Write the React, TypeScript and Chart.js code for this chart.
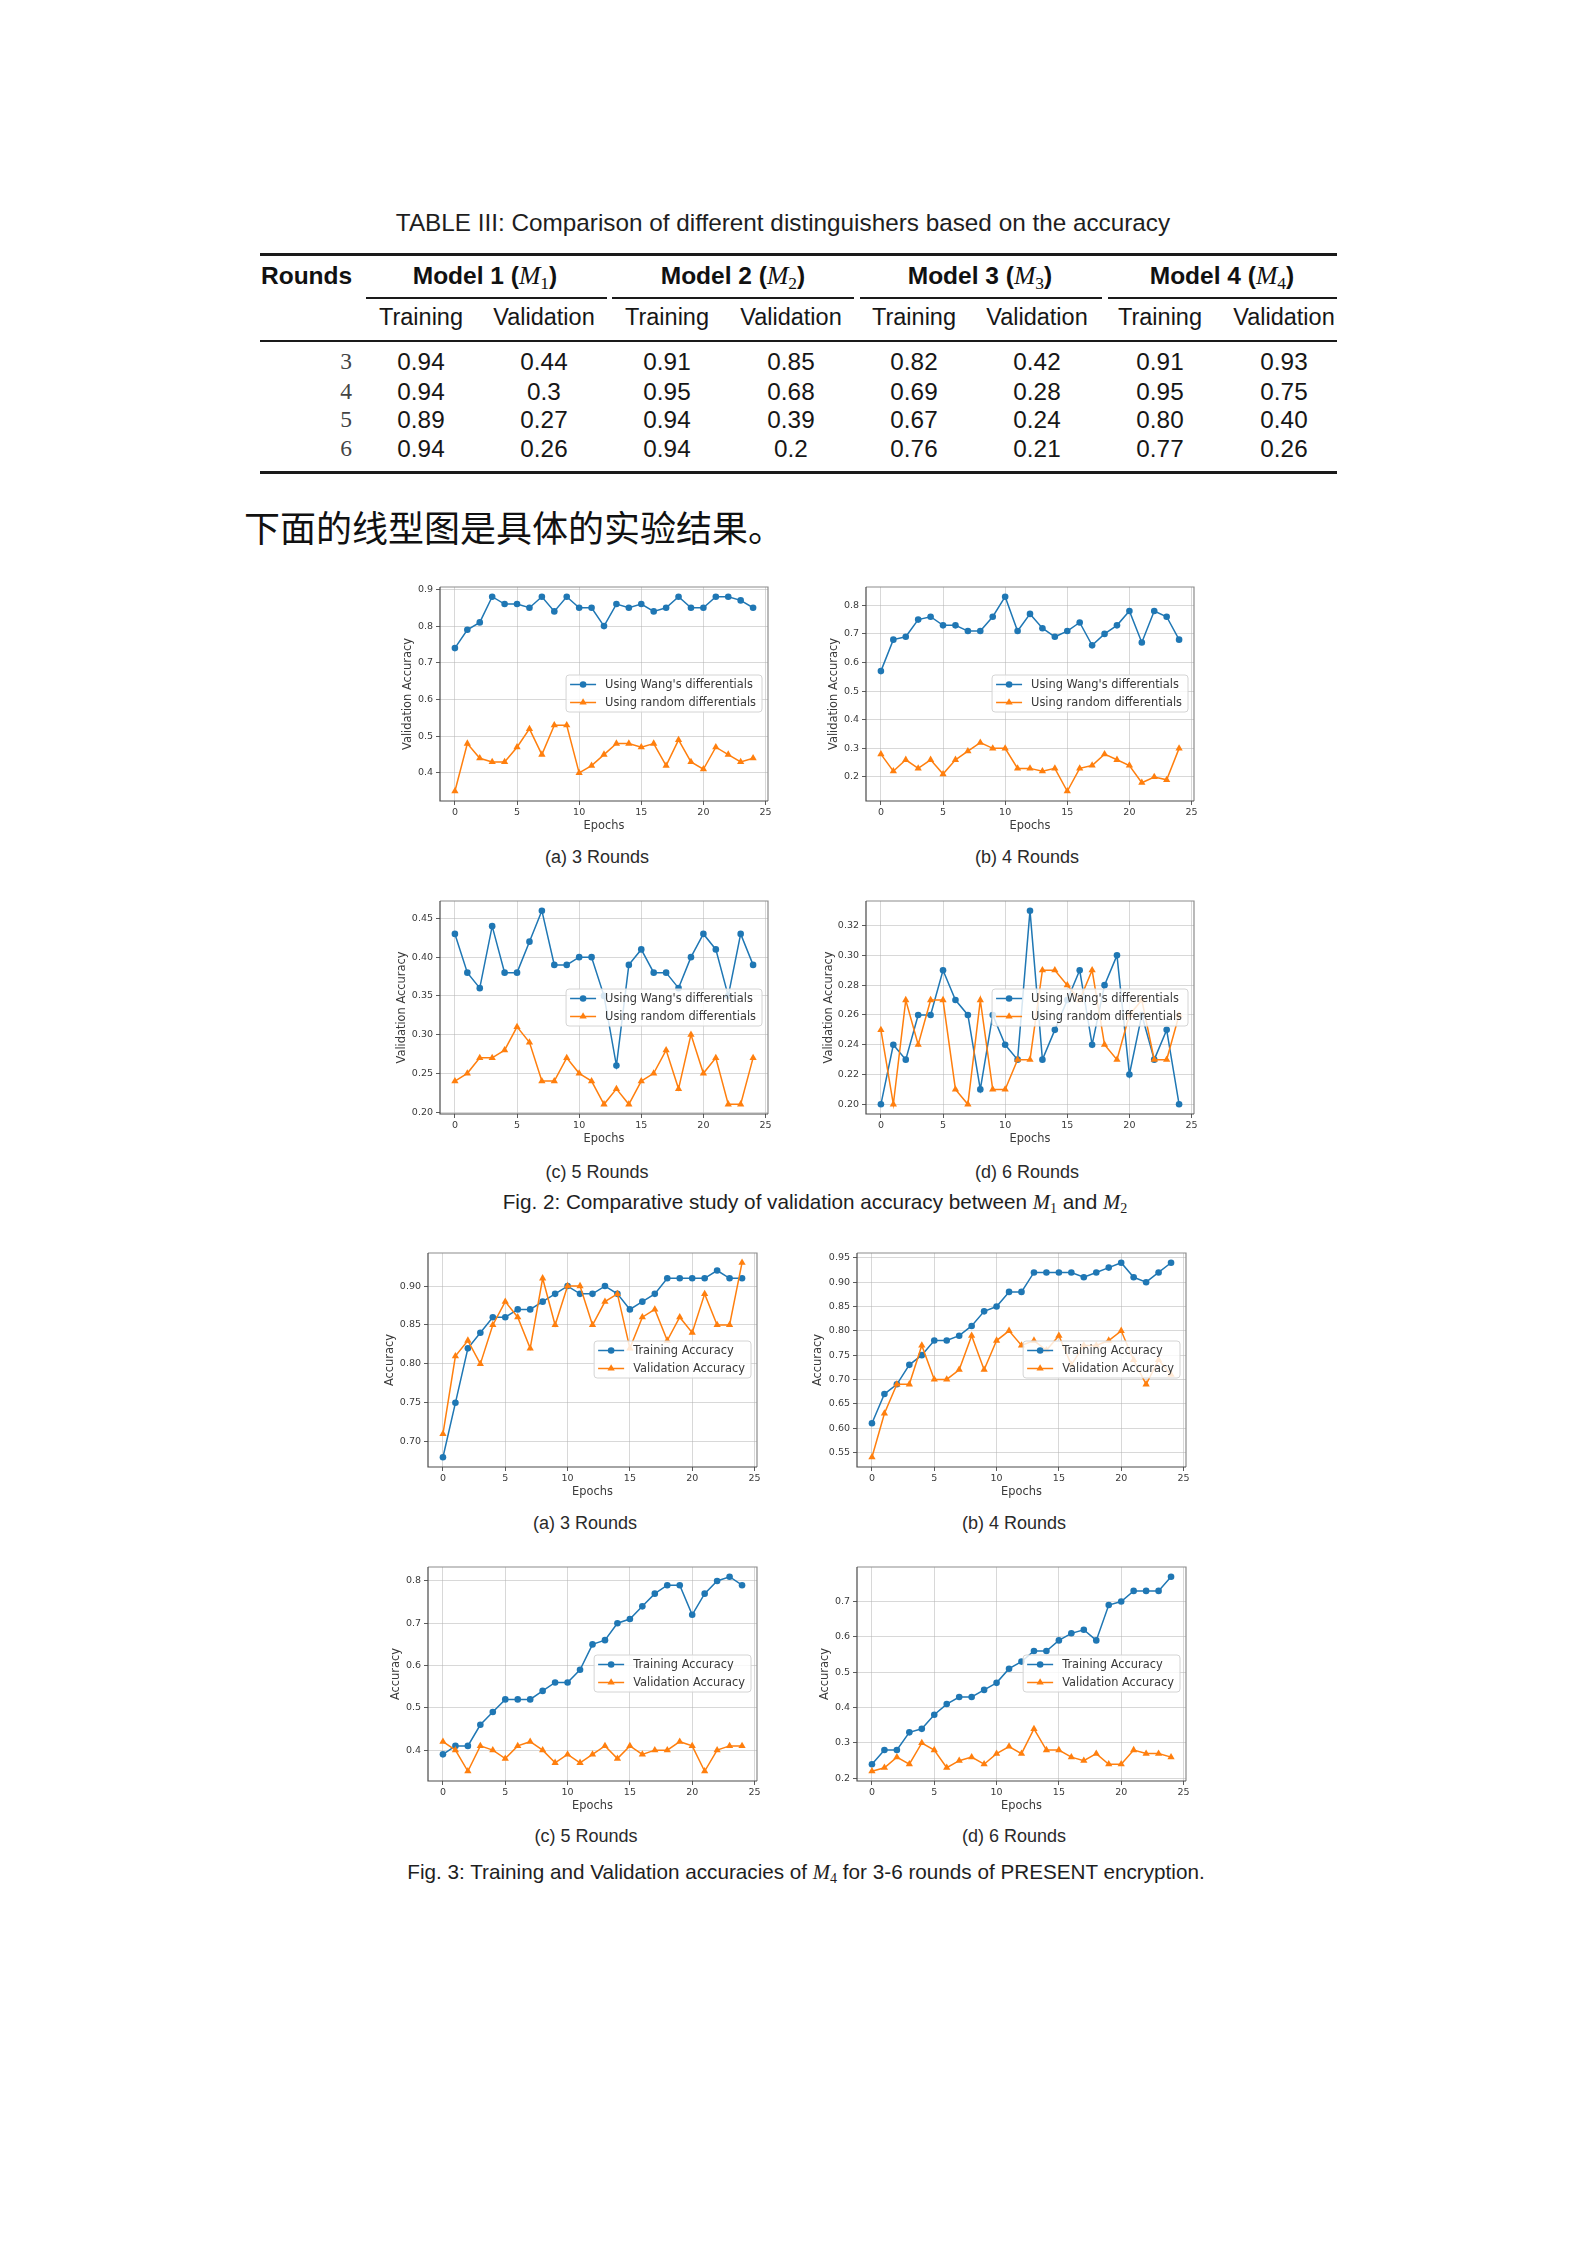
import React, { useEffect, useRef } from "react";
import { Chart, registerables } from "chart.js";
Chart.register(...registerables);

// ---------- data ----------
const epochs = [0, 1, 2, 3, 4, 5, 6, 7, 8, 9, 10, 11, 12, 13, 14, 15, 16, 17, 18, 19, 20, 21, 22, 23, 24];
const xTicks = [0, 5, 10, 15, 20, 25];

const fig2aWang = [0.74, 0.79, 0.81, 0.88, 0.86, 0.86, 0.85, 0.88, 0.84, 0.88, 0.85, 0.85, 0.80, 0.86, 0.85, 0.86, 0.84, 0.85, 0.88, 0.85, 0.85, 0.88, 0.88, 0.87, 0.85];
const fig2aRandom = [0.35, 0.48, 0.44, 0.43, 0.43, 0.47, 0.52, 0.45, 0.53, 0.53, 0.40, 0.42, 0.45, 0.48, 0.48, 0.47, 0.48, 0.42, 0.49, 0.43, 0.41, 0.47, 0.45, 0.43, 0.44];
const fig2bWang = [0.57, 0.68, 0.69, 0.75, 0.76, 0.73, 0.73, 0.71, 0.71, 0.76, 0.83, 0.71, 0.77, 0.72, 0.69, 0.71, 0.74, 0.66, 0.70, 0.73, 0.78, 0.67, 0.78, 0.76, 0.68];
const fig2bRandom = [0.28, 0.22, 0.26, 0.23, 0.26, 0.21, 0.26, 0.29, 0.32, 0.30, 0.30, 0.23, 0.23, 0.22, 0.23, 0.15, 0.23, 0.24, 0.28, 0.26, 0.24, 0.18, 0.20, 0.19, 0.30];
const fig2cWang = [0.43, 0.38, 0.36, 0.44, 0.38, 0.38, 0.42, 0.46, 0.39, 0.39, 0.40, 0.40, 0.35, 0.26, 0.39, 0.41, 0.38, 0.38, 0.36, 0.40, 0.43, 0.41, 0.35, 0.43, 0.39];
const fig2cRandom = [0.24, 0.25, 0.27, 0.27, 0.28, 0.31, 0.29, 0.24, 0.24, 0.27, 0.25, 0.24, 0.21, 0.23, 0.21, 0.24, 0.25, 0.28, 0.23, 0.30, 0.25, 0.27, 0.21, 0.21, 0.27];
const fig2dWang = [0.20, 0.24, 0.23, 0.26, 0.26, 0.29, 0.27, 0.26, 0.21, 0.26, 0.24, 0.23, 0.33, 0.23, 0.25, 0.27, 0.29, 0.24, 0.28, 0.30, 0.22, 0.26, 0.23, 0.25, 0.20];
const fig2dRandom = [0.25, 0.20, 0.27, 0.24, 0.27, 0.27, 0.21, 0.20, 0.27, 0.21, 0.21, 0.23, 0.23, 0.29, 0.29, 0.28, 0.27, 0.29, 0.24, 0.23, 0.26, 0.27, 0.23, 0.23, 0.26];

const fig3aTrain = [0.68, 0.75, 0.82, 0.84, 0.86, 0.86, 0.87, 0.87, 0.88, 0.89, 0.90, 0.89, 0.89, 0.90, 0.89, 0.87, 0.88, 0.89, 0.91, 0.91, 0.91, 0.91, 0.92, 0.91, 0.91];
const fig3aVal = [0.71, 0.81, 0.83, 0.80, 0.85, 0.88, 0.86, 0.82, 0.91, 0.85, 0.90, 0.90, 0.85, 0.88, 0.89, 0.82, 0.86, 0.87, 0.83, 0.86, 0.84, 0.89, 0.85, 0.85, 0.93];
const fig3bTrain = [0.61, 0.67, 0.69, 0.73, 0.75, 0.78, 0.78, 0.79, 0.81, 0.84, 0.85, 0.88, 0.88, 0.92, 0.92, 0.92, 0.92, 0.91, 0.92, 0.93, 0.94, 0.91, 0.90, 0.92, 0.94];
const fig3bVal = [0.54, 0.63, 0.69, 0.69, 0.77, 0.70, 0.70, 0.72, 0.79, 0.72, 0.78, 0.80, 0.77, 0.78, 0.76, 0.79, 0.73, 0.77, 0.77, 0.78, 0.80, 0.74, 0.69, 0.74, 0.71];
const fig3cTrain = [0.39, 0.41, 0.41, 0.46, 0.49, 0.52, 0.52, 0.52, 0.54, 0.56, 0.56, 0.59, 0.65, 0.66, 0.70, 0.71, 0.74, 0.77, 0.79, 0.79, 0.72, 0.77, 0.80, 0.81, 0.79];
const fig3cVal = [0.42, 0.40, 0.35, 0.41, 0.40, 0.38, 0.41, 0.42, 0.40, 0.37, 0.39, 0.37, 0.39, 0.41, 0.38, 0.41, 0.39, 0.40, 0.40, 0.42, 0.41, 0.35, 0.40, 0.41, 0.41];
const fig3dTrain = [0.24, 0.28, 0.28, 0.33, 0.34, 0.38, 0.41, 0.43, 0.43, 0.45, 0.47, 0.51, 0.53, 0.56, 0.56, 0.59, 0.61, 0.62, 0.59, 0.69, 0.70, 0.73, 0.73, 0.73, 0.77];
const fig3dVal = [0.22, 0.23, 0.26, 0.24, 0.30, 0.28, 0.23, 0.25, 0.26, 0.24, 0.27, 0.29, 0.27, 0.34, 0.28, 0.28, 0.26, 0.25, 0.27, 0.24, 0.24, 0.28, 0.27, 0.27, 0.26];

const fig2aYTicks = ["0.4", "0.5", "0.6", "0.7", "0.8", "0.9"];
const fig2bYTicks = ["0.2", "0.3", "0.4", "0.5", "0.6", "0.7", "0.8"];
const fig2cYTicks = ["0.20", "0.25", "0.30", "0.35", "0.40", "0.45"];
const fig2dYTicks = ["0.20", "0.22", "0.24", "0.26", "0.28", "0.30", "0.32"];
const fig3aYTicks = ["0.70", "0.75", "0.80", "0.85", "0.90"];
const fig3bYTicks = ["0.55", "0.60", "0.65", "0.70", "0.75", "0.80", "0.85", "0.90", "0.95"];
const fig3cYTicks = ["0.4", "0.5", "0.6", "0.7", "0.8"];
const fig3dYTicks = ["0.2", "0.3", "0.4", "0.5", "0.6", "0.7"];

const fig2Legend = ["Using Wang's differentials", "Using random differentials"];
const fig3Legend = ["Training Accuracy", "Validation Accuracy"];

const tableRounds = ["3", "4", "5", "6"];
const m1Training = ["0.94", "0.94", "0.89", "0.94"];
const m1Validation = ["0.44", "0.3", "0.27", "0.26"];
const m2Training = ["0.91", "0.95", "0.94", "0.94"];
const m2Validation = ["0.85", "0.68", "0.39", "0.2"];
const m3Training = ["0.82", "0.69", "0.67", "0.76"];
const m3Validation = ["0.42", "0.28", "0.24", "0.21"];
const m4Training = ["0.91", "0.95", "0.80", "0.77"];
const m4Validation = ["0.93", "0.75", "0.40", "0.26"];

// ---------- style ----------
const BLUE = "#1f77b4";
const ORANGE = "#ff7f0e";
const TXT = "#3a3a3a";
const GRID = "rgba(176,176,176,0.55)";
const FONT = '"DejaVu Sans", sans-serif';
const TICK_SIZE = 9.5;
const TITLE_SIZE = 11.4;
const LEGEND_SIZE = 11.4;
const PAD_TOP = 12;
const PAD_RIGHT = 14;
const X_AXIS_H = 34;

function mplRange(a: number[], b: number[]): [number, number] {
  const all = a.concat(b);
  const lo = Math.min(...all);
  const hi = Math.max(...all);
  const m = (hi - lo) * 0.05;
  return [lo - m, hi + m];
}

function drawMarker(ctx: CanvasRenderingContext2D, style: string, x: number, y: number, color: string) {
  ctx.fillStyle = color;
  ctx.beginPath();
  if (style === "circle") {
    ctx.arc(x, y, 3.3, 0, Math.PI * 2);
  } else {
    const r = 4.2;
    ctx.moveTo(x, y - r);
    ctx.lineTo(x + r * 0.866, y + r * 0.5);
    ctx.lineTo(x - r * 0.866, y + r * 0.5);
    ctx.closePath();
  }
  ctx.fill();
}

function makeDecor(labels: string[]) {
  return {
    id: "decor",
    afterDatasetsDraw(chart: any) {
      const ctx: CanvasRenderingContext2D = chart.ctx;
      const a = chart.chartArea;
      ctx.save();
      // spines
      ctx.lineWidth = 1.2;
      ctx.strokeStyle = "#8c8c8c";
      ctx.beginPath();
      ctx.moveTo(a.left, a.top);
      ctx.lineTo(a.right, a.top);
      ctx.lineTo(a.right, a.bottom);
      ctx.stroke();
      ctx.strokeStyle = "#4a4a4a";
      ctx.beginPath();
      ctx.moveTo(a.left, a.top);
      ctx.lineTo(a.left, a.bottom);
      ctx.lineTo(a.right, a.bottom);
      ctx.stroke();
      // legend
      ctx.font = `${LEGEND_SIZE}px ${FONT}`;
      const tw = Math.max(...labels.map((l) => ctx.measureText(l).width));
      const bw = 39 + tw + 6;
      const bh = 37;
      const bx = a.right - 6 - bw;
      const by = a.top + 88;
      const r = 3;
      ctx.beginPath();
      ctx.moveTo(bx + r, by);
      ctx.lineTo(bx + bw - r, by);
      ctx.quadraticCurveTo(bx + bw, by, bx + bw, by + r);
      ctx.lineTo(bx + bw, by + bh - r);
      ctx.quadraticCurveTo(bx + bw, by + bh, bx + bw - r, by + bh);
      ctx.lineTo(bx + r, by + bh);
      ctx.quadraticCurveTo(bx, by + bh, bx, by + bh - r);
      ctx.lineTo(bx, by + r);
      ctx.quadraticCurveTo(bx, by, bx + r, by);
      ctx.closePath();
      ctx.fillStyle = "rgba(255,255,255,0.82)";
      ctx.fill();
      ctx.lineWidth = 1;
      ctx.strokeStyle = "#d4d4d4";
      ctx.stroke();
      const colors = [BLUE, ORANGE];
      const styles = ["circle", "triangle"];
      labels.forEach((l, i) => {
        const y = by + 9.5 + i * 18;
        ctx.strokeStyle = colors[i];
        ctx.lineWidth = 1.5;
        ctx.beginPath();
        ctx.moveTo(bx + 4, y);
        ctx.lineTo(bx + 30, y);
        ctx.stroke();
        drawMarker(ctx, styles[i], bx + 17, y, colors[i]);
        ctx.fillStyle = TXT;
        ctx.textBaseline = "middle";
        ctx.textAlign = "left";
        ctx.fillText(l, bx + 39, y + 0.5);
      });
      ctx.restore();
    },
  };
}

type Cfg = {
  a: number[];
  b: number[];
  yTicks: string[];
  yTitle: string;
  legend: string[];
  left: number;
  top: number;
  w: number;
  h: number;
  yw: number;
};

const fig2Charts: Cfg[] = [
  { a: fig2aWang, b: fig2aRandom, yTicks: fig2aYTicks, yTitle: "Validation Accuracy", legend: fig2Legend, left: 440, top: 587, w: 328, h: 214, yw: 41 },
  { a: fig2bWang, b: fig2bRandom, yTicks: fig2bYTicks, yTitle: "Validation Accuracy", legend: fig2Legend, left: 866, top: 587, w: 328, h: 214, yw: 41 },
  { a: fig2cWang, b: fig2cRandom, yTicks: fig2cYTicks, yTitle: "Validation Accuracy", legend: fig2Legend, left: 440, top: 901, w: 328, h: 213, yw: 47 },
  { a: fig2dWang, b: fig2dRandom, yTicks: fig2dYTicks, yTitle: "Validation Accuracy", legend: fig2Legend, left: 866, top: 901, w: 328, h: 213, yw: 46 },
];
const fig3Charts: Cfg[] = [
  { a: fig3aTrain, b: fig3aVal, yTicks: fig3aYTicks, yTitle: "Accuracy", legend: fig3Legend, left: 428, top: 1253, w: 329, h: 214, yw: 47 },
  { a: fig3bTrain, b: fig3bVal, yTicks: fig3bYTicks, yTitle: "Accuracy", legend: fig3Legend, left: 857, top: 1253, w: 329, h: 214, yw: 48 },
  { a: fig3cTrain, b: fig3cVal, yTicks: fig3cYTicks, yTitle: "Accuracy", legend: fig3Legend, left: 428, top: 1567, w: 329, h: 214, yw: 41 },
  { a: fig3dTrain, b: fig3dVal, yTicks: fig3dYTicks, yTitle: "Accuracy", legend: fig3Legend, left: 857, top: 1567, w: 329, h: 214, yw: 41 },
];

function LineChart({ cfg }: { cfg: Cfg }) {
  const ref = useRef<HTMLCanvasElement>(null);
  const cw = cfg.yw + cfg.w + PAD_RIGHT;
  const ch = PAD_TOP + cfg.h + X_AXIS_H;
  useEffect(() => {
    if (!ref.current) return;
    const [ymin, ymax] = mplRange(cfg.a, cfg.b);
    const tickFont = { family: FONT, size: TICK_SIZE };
    const titleFont = { family: FONT, size: TITLE_SIZE };
    const chart = new Chart(ref.current, {
      type: "line",
      data: {
        datasets: [
          {
            label: cfg.legend[0],
            data: epochs.map((x, i) => ({ x, y: cfg.a[i] })),
            borderColor: BLUE,
            backgroundColor: BLUE,
            borderWidth: 1.5,
            pointStyle: "circle",
            pointRadius: 3.3,
            pointBorderWidth: 0,
            fill: false,
            tension: 0,
            order: 1,
          },
          {
            label: cfg.legend[1],
            data: epochs.map((x, i) => ({ x, y: cfg.b[i] })),
            borderColor: ORANGE,
            backgroundColor: ORANGE,
            borderWidth: 1.5,
            pointStyle: "triangle",
            pointRadius: 4.2,
            pointBorderWidth: 0,
            fill: false,
            tension: 0,
            order: 0,
          },
        ],
      },
      options: {
        responsive: false,
        animation: false,
        events: [],
        layout: { padding: { top: PAD_TOP, right: PAD_RIGHT, left: 0, bottom: 0 } },
        plugins: { legend: { display: false }, tooltip: { enabled: false } },
        scales: {
          x: {
            type: "linear",
            min: -1.2,
            max: 25.2,
            afterBuildTicks: (ax: any) => {
              ax.ticks = xTicks.map((v) => ({ value: v }));
            },
            afterFit: (s: any) => {
              s.height = X_AXIS_H;
            },
            ticks: { font: tickFont, color: TXT, padding: 2, maxRotation: 0, autoSkip: false, callback: (v: any) => String(v) },
            grid: { color: GRID, lineWidth: 0.9, tickColor: "#4a4a4a", tickLength: 4 },
            border: { display: false },
            title: { display: true, text: "Epochs", font: titleFont, color: TXT, padding: { top: 0, bottom: 2 } },
          },
          y: {
            type: "linear",
            min: ymin,
            max: ymax,
            afterBuildTicks: (ax: any) => {
              ax.ticks = cfg.yTicks.map((t) => ({ value: Number(t) }));
            },
            afterFit: (s: any) => {
              s.width = cfg.yw;
            },
            ticks: { font: tickFont, color: TXT, padding: 3, autoSkip: false, callback: (_v: any, i: number) => cfg.yTicks[i] },
            grid: { color: GRID, lineWidth: 0.9, tickColor: "#4a4a4a", tickLength: 4 },
            border: { display: false },
            title: { display: true, text: cfg.yTitle, font: titleFont, color: TXT, padding: { top: 2, bottom: 0 } },
          },
        },
      },
      plugins: [makeDecor(cfg.legend)],
    } as any);
    return () => chart.destroy();
  }, []);
  return (
    <div style={{ position: "absolute", left: cfg.left - cfg.yw, top: cfg.top - PAD_TOP, width: cw, height: ch }}>
      <canvas ref={ref} width={cw} height={ch} style={{ width: cw, height: ch, display: "block" }} />
    </div>
  );
}

// ---------- text helpers ----------
function Txt({ x, y, align = "center", style, children }: { x: number; y: number; align?: string; style?: React.CSSProperties; children: React.ReactNode }) {
  const tx = align === "center" ? "-50%" : align === "right" ? "-100%" : "0";
  return (
    <div
      style={{
        position: "absolute",
        left: x,
        top: y,
        transform: `translate(${tx}, -50%)`,
        whiteSpace: "nowrap",
        lineHeight: 1,
        fontFamily: '"Liberation Sans", Arial, sans-serif',
        ...style,
      }}
    >
      {children}
    </div>
  );
}

function M({ n, scale = 1 }: { n: string; scale?: number }) {
  return (
    <span style={{ fontFamily: '"Liberation Serif", serif', fontWeight: 400, fontSize: `${scale}em` }}>
      <i>M</i>
      <span style={{ fontSize: "0.68em", position: "relative", top: "0.3em" }}>{n}</span>
    </span>
  );
}

function Rule({ x1, x2, y, t }: { x1: number; x2: number; y: number; t: number }) {
  return <div style={{ position: "absolute", left: x1, top: y - t / 2, width: x2 - x1, height: t, background: "#1a1a1a" }} />;
}

const colCenters = [421, 544, 667, 791, 914, 1037, 1160, 1284];
const modelCenters = [485, 733, 980, 1222];
const rowYs = [362, 392, 420, 449];

export default function App() {
  const cols = [m1Training, m1Validation, m2Training, m2Validation, m3Training, m3Validation, m4Training, m4Validation];
  const tblFont: React.CSSProperties = { fontSize: 23.5, color: "#161616" };
  const dataFont: React.CSSProperties = { fontSize: 24.3, color: "#161616" };
  const headFont: React.CSSProperties = { fontSize: 24.5, color: "#111", fontWeight: 700 };
  const capFont: React.CSSProperties = { fontSize: 18, color: "#2a2a2a" };
  const figCap: React.CSSProperties = { fontSize: 20.7, color: "#1e1e1e" };
  const subCaps2 = [
    { t: "(a) 3 Rounds", x: 597, y: 857 },
    { t: "(b) 4 Rounds", x: 1027, y: 857 },
    { t: "(c) 5 Rounds", x: 597, y: 1172 },
    { t: "(d) 6 Rounds", x: 1027, y: 1172 },
  ];
  const subCaps3 = [
    { t: "(a) 3 Rounds", x: 585, y: 1523 },
    { t: "(b) 4 Rounds", x: 1014, y: 1523 },
    { t: "(c) 5 Rounds", x: 586, y: 1836 },
    { t: "(d) 6 Rounds", x: 1014, y: 1836 },
  ];
  return (
    <div style={{ position: "absolute", left: 0, top: 0, width: 1587, height: 2245, background: "#fff", overflow: "hidden" }}>
      {/* table */}
      <Txt x={783} y={223} style={{ fontSize: 24.3, color: "#1e1e1e" }}>
        TABLE III: Comparison of different distinguishers based on the accuracy
      </Txt>
      <Rule x1={260} x2={1337} y={254} t={3} />
      <Txt x={261} y={276} align="left" style={headFont}>
        Rounds
      </Txt>
      {modelCenters.map((cx, i) => (
        <Txt key={"m" + i} x={cx} y={276} style={headFont}>
          Model {i + 1} (<M n={String(i + 1)} scale={1.05} />)
        </Txt>
      ))}
      <Rule x1={366} x2={607} y={298} t={2} />
      <Rule x1={612} x2={854} y={298} t={2} />
      <Rule x1={860} x2={1102} y={298} t={2} />
      <Rule x1={1108} x2={1337} y={298} t={2} />
      {colCenters.map((cx, i) => (
        <Txt key={"h" + i} x={cx} y={318} style={tblFont}>
          {i % 2 === 0 ? "Training" : "Validation"}
        </Txt>
      ))}
      <Rule x1={260} x2={1337} y={341} t={2.2} />
      {tableRounds.map((r, j) => (
        <Txt key={"r" + j} x={352} y={rowYs[j]} align="right" style={{ fontSize: 23.5, color: "#444", fontFamily: '"Liberation Serif", serif' }}>
          {r}
        </Txt>
      ))}
      {cols.map((col, i) =>
        col.map((v, j) => (
          <Txt key={"c" + i + "-" + j} x={colCenters[i]} y={rowYs[j]} style={dataFont}>
            {v}
          </Txt>
        ))
      )}
      <Rule x1={260} x2={1337} y={472} t={3} />

      <Txt x={244} y={526} align="left" style={{ fontSize: 36, color: "#111", fontFamily: '"Noto Sans CJK SC", sans-serif' }}>
        下面的线型图是具体的实验结果。
      </Txt>

      {/* Fig 2 */}
      {fig2Charts.map((c, i) => (
        <LineChart key={"f2" + i} cfg={c} />
      ))}
      {subCaps2.map((c, i) => (
        <Txt key={"s2" + i} x={c.x} y={c.y} style={capFont}>
          {c.t}
        </Txt>
      ))}
      <Txt x={815} y={1202} style={figCap}>
        Fig. 2: Comparative study of validation accuracy between <M n="1" /> and <M n="2" />
      </Txt>

      {/* Fig 3 */}
      {fig3Charts.map((c, i) => (
        <LineChart key={"f3" + i} cfg={c} />
      ))}
      {subCaps3.map((c, i) => (
        <Txt key={"s3" + i} x={c.x} y={c.y} style={capFont}>
          {c.t}
        </Txt>
      ))}
      <Txt x={806} y={1872} style={figCap}>
        Fig. 3: Training and Validation accuracies of <M n="4" /> for 3-6 rounds of PRESENT encryption.
      </Txt>
    </div>
  );
}
